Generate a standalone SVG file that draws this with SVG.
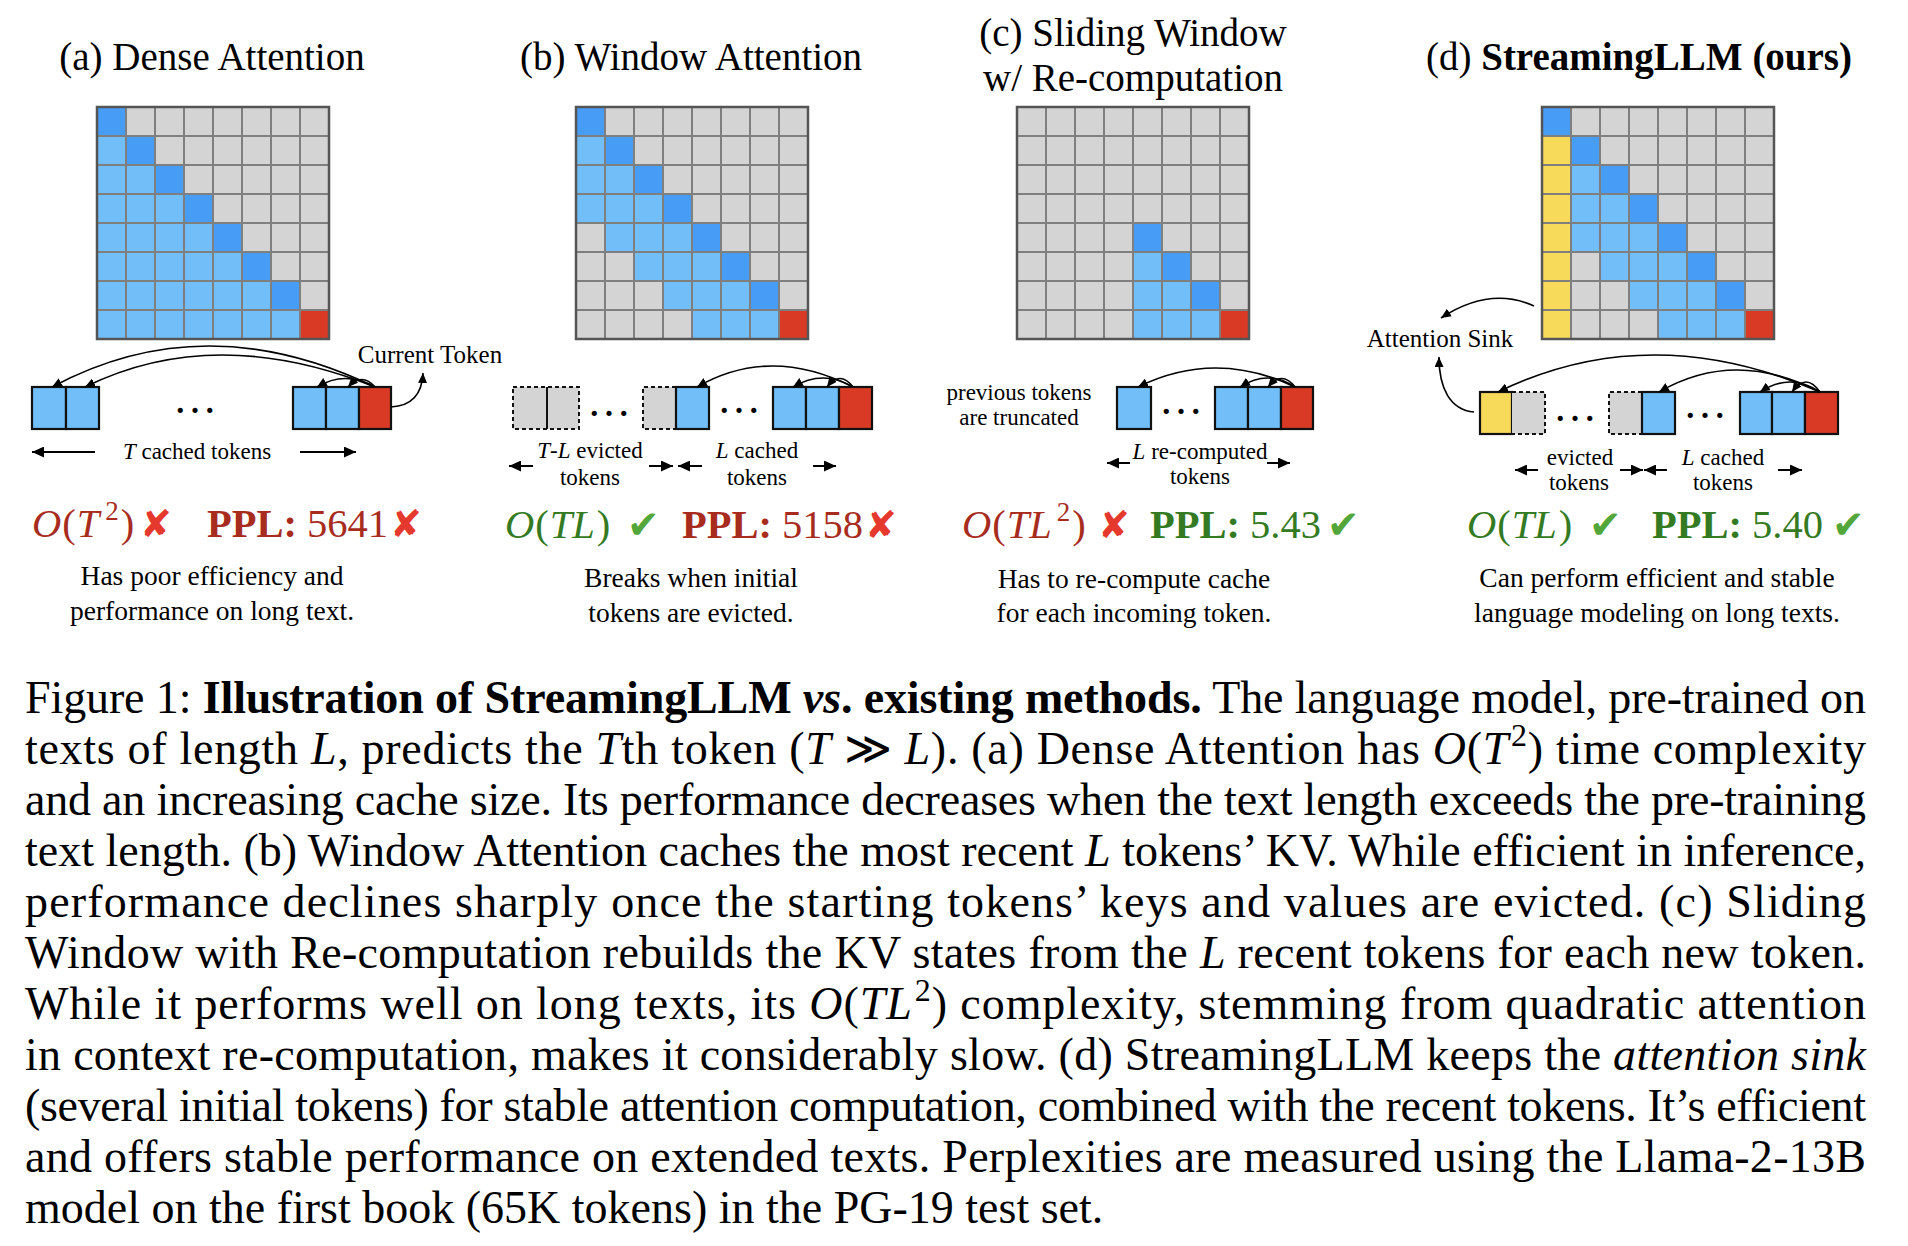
<svg xmlns="http://www.w3.org/2000/svg" xmlns:xlink="http://www.w3.org/1999/xlink" width="1908" height="1246" viewBox="0 0 1908 1246">
<style>
.t{font-family:"Liberation Serif","Times New Roman",serif;fill:#000}
.title{font-size:39px}
.lab{font-size:23px}
.lab2{font-size:25px}
.desc{font-size:27.5px}
.met{font-size:40.5px}
.cap{font-size:46px}
.red{fill:#A82C1E}
.grn{fill:#347A22}
.xm{font-family:"DejaVu Sans",sans-serif;fill:#E5392E;font-size:38px}
.ck{font-family:"DejaVu Sans",sans-serif;fill:#52A63A;font-size:39px}
.it{font-style:italic}
.b{font-weight:bold}
.gray{fill:#D4D4D4}
.lb{fill:#72BEF8}
.db{fill:#479DF5}
.rd{fill:#D93A26}
.yl{fill:#F8DA5B}
.box{stroke:#111;stroke-width:2.2}
.dash{fill:none;stroke:#111;stroke-width:2;stroke-dasharray:4 3}
.arc{fill:none;stroke:#000;stroke-width:1.6;marker-end:url(#ah)}
.dim{fill:none;stroke:#000;stroke-width:2;marker-end:url(#ahd)}
.gl{fill:none;stroke:#7F7F7F;stroke-width:2}
.gb{fill:none;stroke:#555;stroke-width:2.5}
</style>
<defs>
<marker id="ah" viewBox="0 0 10 9" refX="10" refY="4.5" markerWidth="10" markerHeight="9" markerUnits="userSpaceOnUse" orient="auto"><path d="M0,0 L10,4.5 L0,9 z" fill="#000"/></marker>
<marker id="ahd" viewBox="0 0 12 11" refX="12" refY="5.5" markerWidth="12" markerHeight="11" markerUnits="userSpaceOnUse" orient="auto"><path d="M0,0 L12,5.5 L0,11 z" fill="#000"/></marker>
<g id="gridlines">
<path class="gl" d="M29,0V232M58,0V232M87,0V232M116,0V232M145,0V232M174,0V232M203,0V232M0,29H232M0,58H232M0,87H232M0,116H232M0,145H232M0,174H232M0,203H232"/>
<rect class="gb" x="0" y="0" width="232" height="232"/>
</g>
</defs>
<rect width="1908" height="1246" fill="#fff"/>

<!-- Titles -->
<g id="title-a"><text class="t title" x="212" y="70" text-anchor="middle">(a) Dense Attention</text></g>
<g id="title-b"><text class="t title" x="691" y="70" text-anchor="middle">(b) Window Attention</text></g>
<g id="title-c"><text class="t title" x="1133" y="46" text-anchor="middle">(c) Sliding Window</text><text class="t title" x="1133" y="91" text-anchor="middle">w/ Re-computation</text></g>
<g id="title-d"><text class="t title" x="1639" y="70" text-anchor="middle">(d) <tspan class="b">StreamingLLM (ours)</tspan></text></g>

<!-- Grids -->
<g id="grid-a" transform="translate(97,107)">
<rect class="gray" width="232" height="232"/>
<rect class="lb" x="0" y="29" width="29" height="29"/><rect class="lb" x="0" y="58" width="58" height="29"/><rect class="lb" x="0" y="87" width="87" height="29"/><rect class="lb" x="0" y="116" width="116" height="29"/><rect class="lb" x="0" y="145" width="145" height="29"/><rect class="lb" x="0" y="174" width="174" height="29"/><rect class="lb" x="0" y="203" width="203" height="29"/>
<rect class="db" x="0" y="0" width="29" height="29"/><rect class="db" x="29" y="29" width="29" height="29"/><rect class="db" x="58" y="58" width="29" height="29"/><rect class="db" x="87" y="87" width="29" height="29"/><rect class="db" x="116" y="116" width="29" height="29"/><rect class="db" x="145" y="145" width="29" height="29"/><rect class="db" x="174" y="174" width="29" height="29"/><rect class="rd" x="203" y="203" width="29" height="29"/>
<use xlink:href="#gridlines"/>
</g>
<g id="grid-b" transform="translate(576,107)">
<rect class="gray" width="232" height="232"/>
<rect class="lb" x="0" y="29" width="29" height="29"/><rect class="lb" x="0" y="58" width="58" height="29"/><rect class="lb" x="0" y="87" width="87" height="29"/><rect class="lb" x="29" y="116" width="87" height="29"/><rect class="lb" x="58" y="145" width="87" height="29"/><rect class="lb" x="87" y="174" width="87" height="29"/><rect class="lb" x="116" y="203" width="87" height="29"/>
<rect class="db" x="0" y="0" width="29" height="29"/><rect class="db" x="29" y="29" width="29" height="29"/><rect class="db" x="58" y="58" width="29" height="29"/><rect class="db" x="87" y="87" width="29" height="29"/><rect class="db" x="116" y="116" width="29" height="29"/><rect class="db" x="145" y="145" width="29" height="29"/><rect class="db" x="174" y="174" width="29" height="29"/><rect class="rd" x="203" y="203" width="29" height="29"/>
<use xlink:href="#gridlines"/>
</g>
<g id="grid-c" transform="translate(1017,107)">
<rect class="gray" width="232" height="232"/>
<rect class="lb" x="116" y="145" width="29" height="29"/><rect class="lb" x="116" y="174" width="58" height="29"/><rect class="lb" x="116" y="203" width="87" height="29"/>
<rect class="db" x="116" y="116" width="29" height="29"/><rect class="db" x="145" y="145" width="29" height="29"/><rect class="db" x="174" y="174" width="29" height="29"/><rect class="rd" x="203" y="203" width="29" height="29"/>
<use xlink:href="#gridlines"/>
</g>
<g id="grid-d" transform="translate(1542,107)">
<rect class="gray" width="232" height="232"/>
<rect class="yl" x="0" y="29" width="29" height="203"/>
<rect class="lb" x="29" y="58" width="29" height="29"/><rect class="lb" x="29" y="87" width="58" height="29"/><rect class="lb" x="29" y="116" width="87" height="29"/><rect class="lb" x="58" y="145" width="87" height="29"/><rect class="lb" x="87" y="174" width="87" height="29"/><rect class="lb" x="116" y="203" width="87" height="29"/>
<rect class="db" x="0" y="0" width="29" height="29"/><rect class="db" x="29" y="29" width="29" height="29"/><rect class="db" x="58" y="58" width="29" height="29"/><rect class="db" x="87" y="87" width="29" height="29"/><rect class="db" x="116" y="116" width="29" height="29"/><rect class="db" x="145" y="145" width="29" height="29"/><rect class="db" x="174" y="174" width="29" height="29"/><rect class="rd" x="203" y="203" width="29" height="29"/>
<use xlink:href="#gridlines"/>
</g>

<!-- Token rows -->
<g id="tokens-a">
<rect class="lb box" x="32" y="387" width="34" height="42"/><rect class="lb box" x="66" y="387" width="33" height="42"/>
<text class="t" x="195" y="413" font-size="44" text-anchor="middle">…</text>
<rect class="lb box" x="293" y="387" width="33" height="42"/><rect class="lb box" x="326" y="387" width="33" height="42"/><rect class="rd box" x="359" y="387" width="32" height="42"/>
</g>
<g id="tokens-b">
<rect class="gray" x="513" y="387" width="66" height="42"/><rect class="dash" x="513" y="387" width="66" height="42"/><path d="M547,387V429" stroke="#111" stroke-width="2"/>
<text class="t" x="609" y="416" font-size="44" text-anchor="middle">…</text>
<rect class="gray" x="643" y="387" width="33" height="42"/><path class="dash" d="M676,387H643V429H676"/>
<rect class="lb box" x="676" y="387" width="33" height="42"/>
<text class="t" x="739" y="413" font-size="44" text-anchor="middle">…</text>
<rect class="lb box" x="773" y="387" width="33" height="42"/><rect class="lb box" x="806" y="387" width="33" height="42"/><rect class="rd box" x="839" y="387" width="33" height="42"/>
</g>
<g id="tokens-c">
<rect class="lb box" x="1117" y="387" width="34" height="42"/>
<text class="t" x="1181" y="414" font-size="44" text-anchor="middle">…</text>
<rect class="lb box" x="1215" y="387" width="33" height="42"/><rect class="lb box" x="1248" y="387" width="33" height="42"/><rect class="rd box" x="1281" y="387" width="32" height="42"/>
</g>
<g id="tokens-d">
<rect class="yl box" x="1480" y="392" width="32" height="42"/>
<rect class="gray" x="1512" y="392" width="33" height="42"/><path class="dash" d="M1512,392H1545V434H1512"/>
<text class="t" x="1575" y="421" font-size="44" text-anchor="middle">…</text>
<rect class="gray" x="1609" y="392" width="33" height="42"/><path class="dash" d="M1642,392H1609V434H1642"/>
<rect class="lb box" x="1642" y="392" width="33" height="42"/>
<text class="t" x="1705" y="418" font-size="44" text-anchor="middle">…</text>
<rect class="lb box" x="1740" y="392" width="32" height="42"/><rect class="lb box" x="1772" y="392" width="33" height="42"/><rect class="rd box" x="1805" y="392" width="33" height="42"/>
</g>

<!-- Connectors -->
<g id="connectors">
<path class="arc" d="M375,387 Q205,305 52,387"/>
<path class="arc" d="M375,387 Q215,323 85,387"/>
<path class="arc" d="M375,387 Q345,370 317,387"/>
<path class="arc" d="M375,387 Q362,372 348,387"/>
<path class="arc" d="M391,407 C410,406 422,396 423,373"/>
<path class="arc" d="M853,387 Q770,345 697,387"/>
<path class="arc" d="M853,387 Q823,369 793,387"/>
<path class="arc" d="M853,387 Q840,370 827,387"/>
<path class="arc" d="M1295,387 Q1215,349 1138,387"/>
<path class="arc" d="M1295,387 Q1268,369 1240,387"/>
<path class="arc" d="M1295,387 Q1282,370 1268,387"/>
<path class="arc" d="M1820,392 Q1650,318 1498,392"/>
<path class="arc" d="M1820,392 Q1735,348 1659,392"/>
<path class="arc" d="M1820,392 Q1790,372 1760,392"/>
<path class="arc" d="M1820,392 Q1806,372 1792,392"/>
<path class="arc" d="M1534,306 Q1490,286 1441,318"/>
<path class="arc" d="M1474,412 C1450,410 1439,388 1439,357"/>
<path class="dim" d="M95,452H32"/><path class="dim" d="M300,452H356"/>
<path class="dim" d="M533,466H509"/><path class="dim" d="M649,466H673"/><path class="dim" d="M702,466H678"/><path class="dim" d="M813,466H836"/>
<path class="dim" d="M1130,463H1107"/><path class="dim" d="M1267,463H1290"/>
<path class="dim" d="M1538,470H1515"/><path class="dim" d="M1620,470H1643"/><path class="dim" d="M1667,470H1644"/><path class="dim" d="M1778,470H1802"/>
</g>

<!-- Labels -->
<g id="labels">
<text class="t lab2" x="430" y="363" text-anchor="middle">Current Token</text>
<text class="t lab" x="197" y="459" text-anchor="middle"><tspan class="it">T</tspan> cached tokens</text>
<text class="t lab" x="590" y="458" text-anchor="middle"><tspan class="it">T</tspan>-<tspan class="it">L</tspan> evicted</text>
<text class="t lab" x="590" y="485" text-anchor="middle">tokens</text>
<text class="t lab" x="757" y="458" text-anchor="middle"><tspan class="it">L</tspan> cached</text>
<text class="t lab" x="757" y="485" text-anchor="middle">tokens</text>
<text class="t lab" x="1019" y="400" text-anchor="middle">previous tokens</text>
<text class="t lab" x="1019" y="425" text-anchor="middle">are truncated</text>
<text class="t lab" x="1200" y="459" text-anchor="middle"><tspan class="it">L</tspan> re-computed</text>
<text class="t lab" x="1200" y="484" text-anchor="middle">tokens</text>
<text class="t lab2" x="1440" y="347" text-anchor="middle">Attention Sink</text>
<text class="t lab" x="1580" y="465" text-anchor="middle">evicted</text>
<text class="t lab" x="1579" y="490" text-anchor="middle">tokens</text>
<text class="t lab" x="1723" y="465" text-anchor="middle"><tspan class="it">L</tspan> cached</text>
<text class="t lab" x="1723" y="490" text-anchor="middle">tokens</text>
</g>

<!-- Metrics -->
<g id="metrics-a">
<text class="t met red" x="32" y="537"><tspan class="it">O</tspan><tspan dx="1">(</tspan><tspan class="it" dx="1">T</tspan><tspan dx="6" dy="-17" font-size="27">2</tspan><tspan dx="2" dy="17">)</tspan></text>
<text class="xm" x="140" y="537">✘</text>
<text class="t met red" x="207" y="537"><tspan class="b">PPL:</tspan> 5641</text>
<text class="xm" x="390" y="537">✘</text>
</g>
<g id="metrics-b">
<text class="t met grn" x="505" y="538"><tspan class="it">O</tspan><tspan dx="1">(</tspan><tspan class="it" dx="1">TL</tspan><tspan dx="2">)</tspan></text>
<text class="ck" x="627" y="538">✔</text>
<text class="t met red" x="682" y="538"><tspan class="b">PPL:</tspan> 5158</text>
<text class="xm" x="865" y="538">✘</text>
</g>
<g id="metrics-c">
<text class="t met red" x="962" y="538"><tspan class="it">O</tspan><tspan dx="1">(</tspan><tspan class="it" dx="1">TL</tspan><tspan dx="5" dy="-17" font-size="27">2</tspan><tspan dx="2" dy="17">)</tspan></text>
<text class="xm" x="1098" y="538">✘</text>
<text class="t met grn" x="1150" y="538"><tspan class="b">PPL:</tspan> 5.43</text>
<text class="ck" x="1327" y="538">✔</text>
</g>
<g id="metrics-d">
<text class="t met grn" x="1467" y="538"><tspan class="it">O</tspan><tspan dx="1">(</tspan><tspan class="it" dx="1">TL</tspan><tspan dx="2">)</tspan></text>
<text class="ck" x="1589" y="538">✔</text>
<text class="t met grn" x="1652" y="538"><tspan class="b">PPL:</tspan> 5.40</text>
<text class="ck" x="1832" y="538">✔</text>
</g>

<!-- Descriptions -->
<g id="desc-a"><text class="t desc" x="212" y="585" text-anchor="middle">Has poor efficiency and</text><text class="t desc" x="212" y="620" text-anchor="middle">performance on long text.</text></g>
<g id="desc-b"><text class="t desc" x="691" y="587" text-anchor="middle">Breaks when initial</text><text class="t desc" x="691" y="622" text-anchor="middle">tokens are evicted.</text></g>
<g id="desc-c"><text class="t desc" x="1134" y="588" text-anchor="middle">Has to re-compute cache</text><text class="t desc" x="1134" y="622" text-anchor="middle">for each incoming token.</text></g>
<g id="desc-d"><text class="t desc" x="1657" y="587" text-anchor="middle">Can perform efficient and stable</text><text class="t desc" x="1657" y="622" text-anchor="middle">language modeling on long texts.</text></g>

<!-- Caption -->
<g id="caption" class="t cap">
<text x="25" y="713" textLength="1841" lengthAdjust="spacing">Figure 1: <tspan class="b">Illustration of StreamingLLM <tspan class="it">vs</tspan>. existing methods.</tspan> The language model, pre-trained on</text>
<text x="25" y="764" textLength="1841" lengthAdjust="spacing">texts of length <tspan class="it">L</tspan>, predicts the <tspan class="it">T</tspan>th token (<tspan class="it">T</tspan> ≫ <tspan class="it">L</tspan>). (a) Dense Attention has <tspan class="it">O</tspan>(<tspan class="it">T</tspan><tspan dx="2" dy="-18" font-size="32">2</tspan><tspan dy="18">) time complexity</tspan></text>
<text x="25" y="815" textLength="1841" lengthAdjust="spacing">and an increasing cache size. Its performance decreases when the text length exceeds the pre-training</text>
<text x="25" y="866" textLength="1841" lengthAdjust="spacing">text length. (b) Window Attention caches the most recent <tspan class="it">L</tspan> tokens’ KV. While efficient in inference,</text>
<text x="25" y="917" textLength="1841" lengthAdjust="spacing">performance declines sharply once the starting tokens’ keys and values are evicted.  (c) Sliding</text>
<text x="25" y="968" textLength="1841" lengthAdjust="spacing">Window with Re-computation rebuilds the KV states from the <tspan class="it">L</tspan> recent tokens for each new token.</text>
<text x="25" y="1019" textLength="1841" lengthAdjust="spacing">While it performs well on long texts, its <tspan class="it">O</tspan>(<tspan class="it">TL</tspan><tspan dx="2" dy="-18" font-size="32">2</tspan><tspan dy="18">) complexity, stemming from quadratic attention</tspan></text>
<text x="25" y="1070" textLength="1841" lengthAdjust="spacing">in context re-computation, makes it considerably slow. (d) StreamingLLM keeps the <tspan class="it">attention sink</tspan></text>
<text x="25" y="1121" textLength="1841" lengthAdjust="spacing">(several initial tokens) for stable attention computation, combined with the recent tokens. It’s efficient</text>
<text x="25" y="1172" textLength="1841" lengthAdjust="spacing">and offers stable performance on extended texts. Perplexities are measured using the Llama-2-13B</text>
<text x="25" y="1223">model on the first book (65K tokens) in the PG-19 test set.</text>
</g>
</svg>
